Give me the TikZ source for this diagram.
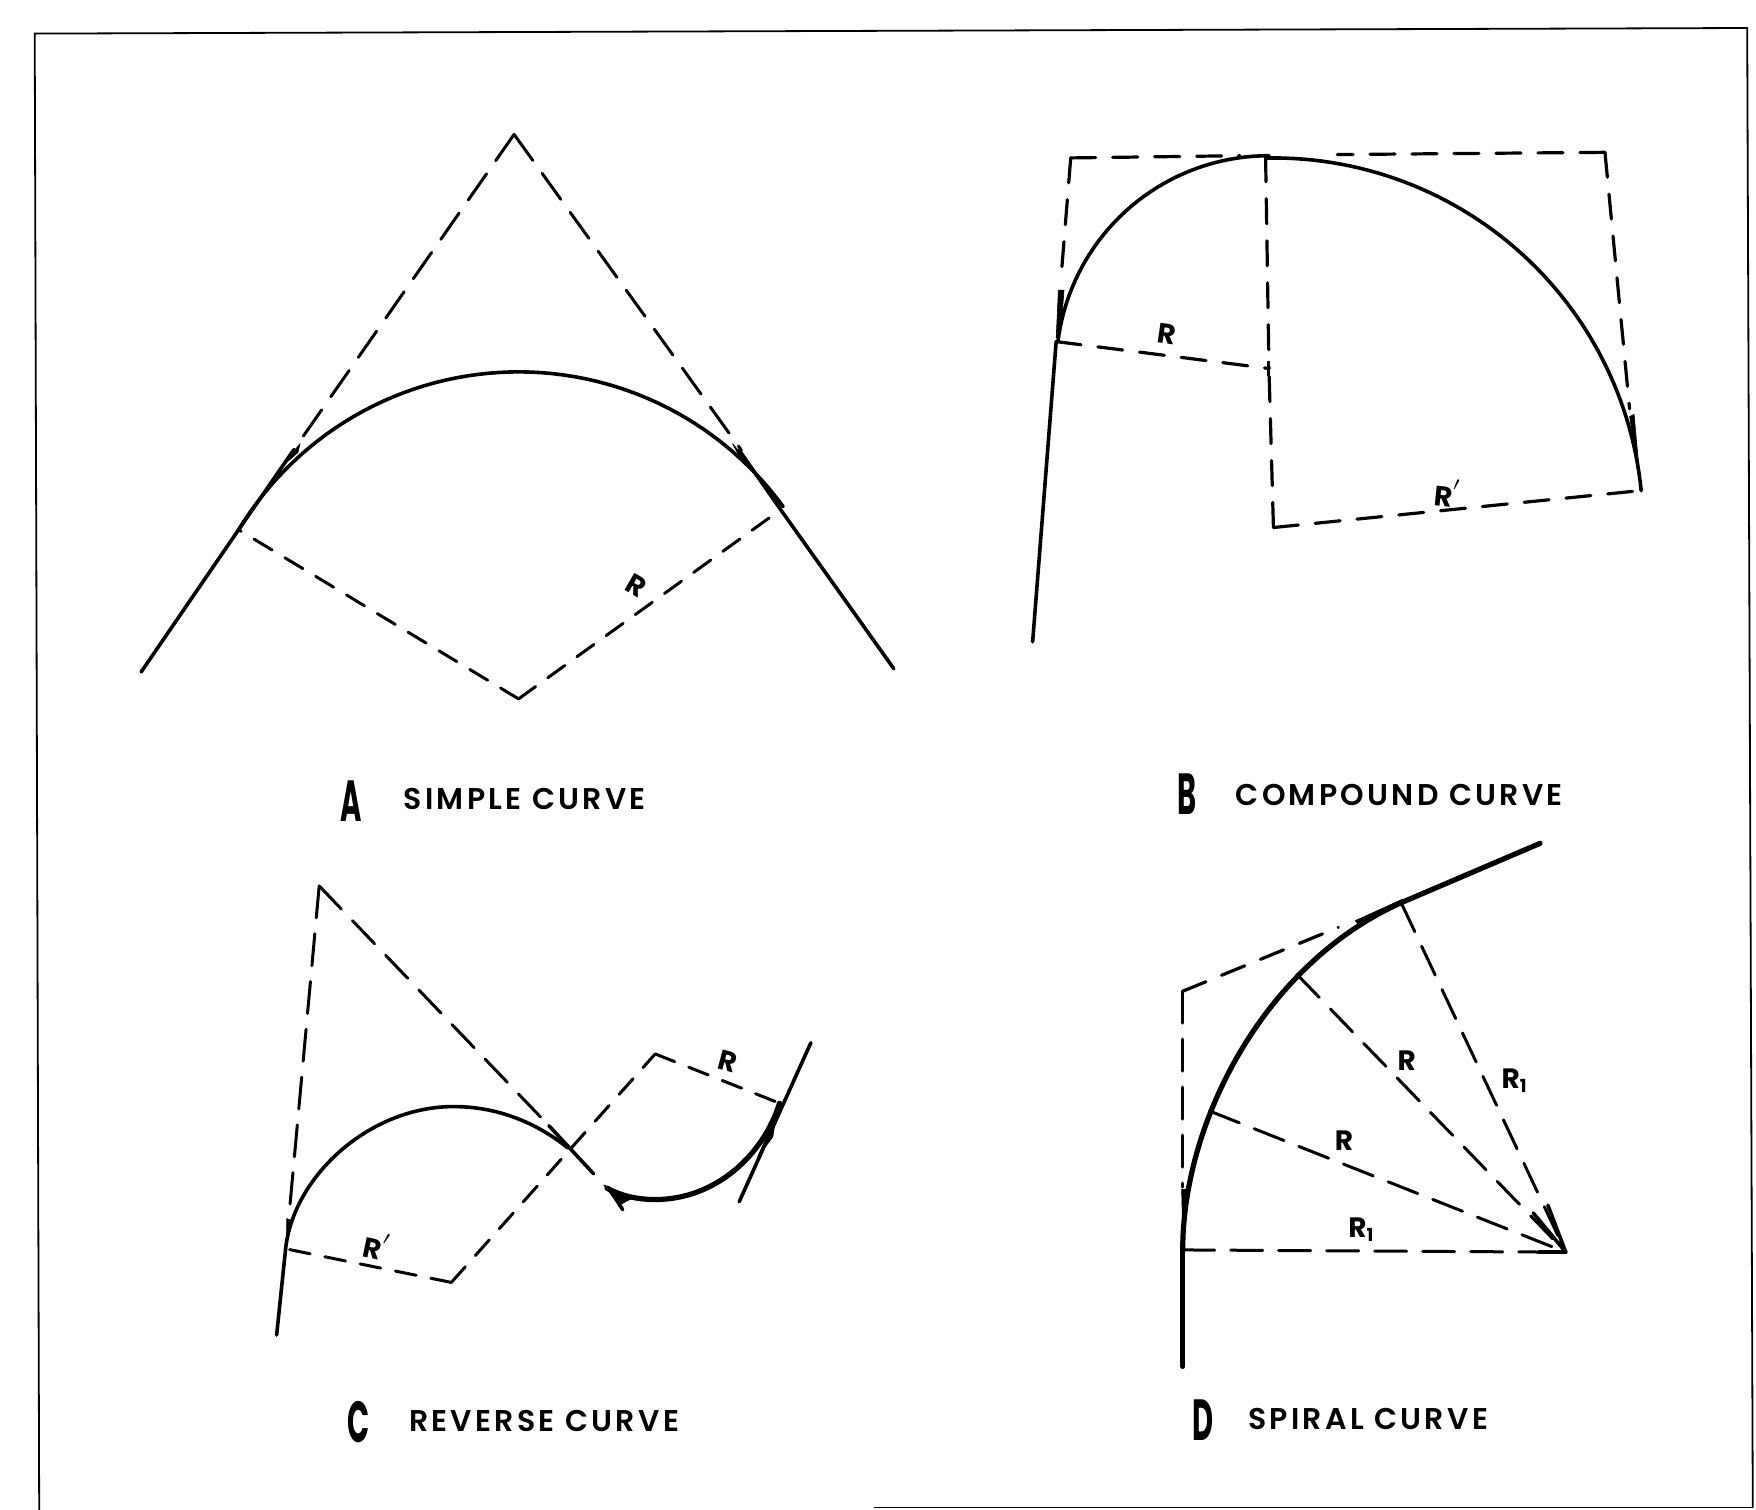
\documentclass[tikz,border=0pt]{standalone}
\usepackage{fontspec}
\setmainfont{Poppins}
\newfontfamily\capfont[LetterSpace=11]{Poppins SemiBold}
\tikzset{
  x=0.56pt,y=-0.56pt,
  solidline/.style={line width=1.8pt,line cap=round,line join=round,black},
  heavy/.style={line width=2.6pt,line cap=round,line join=round,black},
  dashline/.style={line width=1.6pt,dash pattern=on 12.5pt off 8.5pt,line cap=round,line join=round,black},
  shortdash/.style={line width=1.5pt,dash pattern=on 10.5pt off 7.5pt,line cap=round,line join=round,black},
  longdash/.style={line width=1.5pt,dash pattern=on 16pt off 8pt,line cap=round,line join=round,black},
  wedge/.style={fill=black,draw=black,line width=0.3pt,line join=round},
  frameline/.style={line width=0.9pt,black},
  caption/.style={font=\capfont\fontsize{15}{17}\selectfont,anchor=west,inner sep=0pt},
  letterlab/.style={font=\bfseries\fontsize{29}{31}\selectfont,xscale=0.5,inner sep=0pt},
  rlab/.style={font=\bfseries\fontsize{14}{16}\selectfont,inner sep=0pt}
}
\newcommand{\primeR}{R\raisebox{3pt}{$'$}}
\newcommand{\subR}{R\raisebox{-2pt}{\fontsize{9}{9}\selectfont 1}}
\begin{document}
\begin{tikzpicture}
\useasboundingbox (0,0) rectangle (1567.86,1348.2);
\fill[white] (0,0) rectangle (1567.86,1348.2);
% frame
\draw[frameline] (35,1348) -- (31,30) -- (1560,25) -- (1565,1346);
\draw[frameline] (780,1346) -- (1565,1346);
% A
\coordinate (aApex) at (459,120);
\coordinate (aC) at (463,624);
\coordinate (aL) at (213,473);
\coordinate (aR) at (697,455);
\draw[longdash] (aApex) -- (262,402);
\draw[longdash] (aApex) -- (662,402);
\draw[solidline] (126,600) -- (aL) -- (262,402);
\draw[solidline] (798,597) -- (aR) -- (660,402);
\draw[shortdash] (aC) -- (aL);
\draw[shortdash] (aC) -- (aR);
\draw[solidline] plot[domain=36:149,samples=60] ({463+292*cos(\x)},{624-292*sin(\x)});
\fill[wedge] (250,418) -- (268,396) -- (266,404) -- cycle;
\fill[wedge] (654,396) -- (674,420) -- (662,411) -- cycle;
\node[rlab,rotate=-30] (aRl) at (568,523) {R};
\node[letterlab] (aLet) at (314,715) {A};
\node[caption] (aCap) at (360,713) {SIMPLE CURVE};
% B
\coordinate (bT) at (1130,140);
\coordinate (bC) at (1133,329);
\coordinate (bD) at (1137,471);
\coordinate (bE) at (1465,438);
\coordinate (bL) at (943,305);
\coordinate (bK) at (956,141);
\coordinate (bQ) at (1433,136);
\draw[dashline] (bK) -- (948,240);
\draw[dashline] (bK) -- (1107,139);
\draw[dashline] (bQ) -- (1194,138);
\draw[dashline] (bQ) -- (1455,365);
\draw[dashline] (bT) -- (bC);
\draw[dashline] (bD) -- (bC);
\draw[dashline] (bD) -- (bE);
\draw[dashline] (bL) -- (bC);
\draw[solidline] (922,573) -- (bL);
\draw[solidline] plot[domain=90:172.8,samples=40] ({1133+190*cos(\x)},{329-190*sin(\x)});
\draw[solidline] plot[domain=5.7:91,samples=60] ({1137+330*cos(\x)},{471-330*sin(\x)});
\fill[wedge] (945,259) -- (950,259) -- (948,285) -- (943,302) -- cycle;
\fill[wedge] (1465,436) -- (1455,372) -- (1459,370) -- cycle;
\draw[line width=1.5pt] (1133,322) -- (1133,336);
\node[rlab,rotate=-8] (bRl) at (1042,298) {R};
\node[rlab,rotate=-6] (bRp) at (1292,440) {\primeR};
\node[letterlab] (bLet) at (1060,709) {B};
\node[caption] (bCap) at (1103,710) {COMPOUND CURVE};
% C
\coordinate (cTop) at (285,791);
\coordinate (cL) at (255,1115);
\coordinate (cC) at (403,1145);
\coordinate (cU) at (585,941);
\coordinate (cR) at (696,985);
\coordinate (cX) at (507,1025);
\draw[longdash] (cTop) -- (259,1075);
\draw[longdash] (cTop) -- (490,1005);
\draw[shortdash] (cC) -- (cL);
\draw[shortdash] (cC) -- (cU);
\draw[shortdash] (cU) -- (cR);
\draw[solidline] (247,1192) -- (cL);
\draw[solidline] (490,1005) -- (530,1048);
\draw[solidline] (543,1060) -- (556,1080);
\draw[solidline] (724,931) -- (660,1073);
\draw[solidline] (cL) .. controls (262,1050) and (330,988) .. (405,988) .. controls (445,988) and (480,1003) .. (cX);
\draw[heavy] (cR) .. controls (682,1030) and (640,1071) .. (585,1071) .. controls (570,1071) and (555,1068) .. (542,1061);
\fill[wedge] (256,1112) -- (256,1088) -- (261,1090) -- cycle;
\fill[wedge] (539,1058) -- (566,1069) -- (553,1076) -- cycle;
\fill[wedge] (676,1034) -- (693,996) -- (690,1015) -- cycle;
\node[rlab,rotate=-15] (cRl) at (650,948) {R};
\node[rlab,rotate=-12] (cRp) at (336,1112) {\primeR};
\node[letterlab] (cLet) at (320,1270) {C};
\node[caption] (cCap) at (365,1269) {REVERSE CURVE};
% D
\coordinate (dO) at (1398,1118);
\coordinate (dK) at (1056,885);
\coordinate (d1) at (1056,1116);
\coordinate (d2) at (1080,992);
\coordinate (d3) at (1158,870);
\coordinate (d4) at (1251,806);
\draw[longdash] (dK) -- (1056,1060);
\draw[dashline] (dK) -- (1195,828);
\draw[longdash] (d1) -- (dO);
\draw[longdash] (d2) -- (dO);
\draw[longdash] (d3) -- (dO);
\draw[longdash] (d4) -- (dO);
\draw[heavy] (1056,1220) -- (d1);
\draw[heavy] (d1) .. controls (1056,1000) and (1130,860) .. (d4);
\draw[heavy] (d4) -- (1375,753);
\fill[wedge] (1210,822) -- (1252,803) -- (1214,827) -- cycle;
\fill[wedge] (1056,1100) -- (1055,1062) -- (1060,1062) -- cycle;
\draw[solidline] (1382,1076) -- (dO) -- (1369,1083);
\draw[solidline] (1374,1118) -- (dO);
\node[rlab] (dR1) at (1215,1098) {\subR};
\node[rlab] (dR2) at (1200,1018) {R};
\node[rlab] (dR3) at (1256,947) {R};
\node[rlab] (dR4) at (1352,965) {\subR};
\node[letterlab] (dLet) at (1074,1268) {D};
\node[caption] (dCap) at (1114,1267) {SPIRAL CURVE};
\end{tikzpicture}
\end{document}
